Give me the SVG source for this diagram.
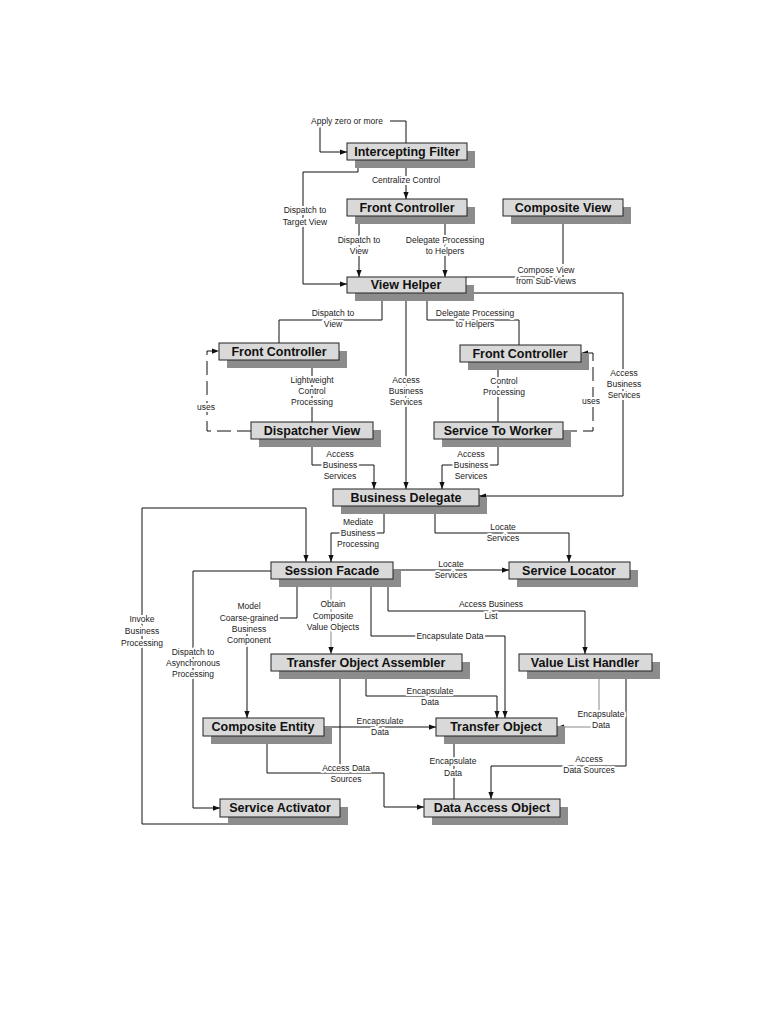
<svg xmlns="http://www.w3.org/2000/svg" width="768" height="1024" viewBox="0 0 768 1024">
<style>
.sh{fill:#8c8c8c}
.bx{fill:#d9d9d9;stroke:#222;stroke-width:1}
.bt{font-family:"Liberation Sans",Arial,sans-serif;font-weight:bold;font-size:12.5px;fill:#111;text-anchor:middle}
.c{fill:none;stroke:#111;stroke-width:1;marker-end:url(#a)}
.n{fill:none;stroke:#111;stroke-width:1}
.g{stroke:#888}
.d{stroke-dasharray:14,6}
.l{font-family:"Liberation Sans",Arial,sans-serif;font-size:8.5px;fill:#222;text-anchor:middle;paint-order:stroke;stroke:#fff;stroke-width:4px;stroke-linejoin:round}
</style>
<defs>
<marker id="a" viewBox="0 0 8 8" refX="8" refY="4" markerWidth="7" markerHeight="7" markerUnits="userSpaceOnUse" orient="auto"><path d="M0,1 L8,4 L0,7 z" fill="#111"/></marker>
</defs>
<rect width="768" height="1024" fill="#fff"/>
<g id="connectors">
<path class="n" d="M406,143 V121 H390"/>
<path class="c" d="M320,124 V152 H347"/>
<path class="c" d="M406,160 V199"/>
<path class="c" d="M358,160 V172 H303 V284 H347"/>
<path class="c" d="M359,216 V277"/>
<path class="c" d="M445,216 V277"/>
<path class="c" d="M466,277 H563 V216"/>
<path class="c" d="M466,293 H623 V496 H479"/>
<path class="c" d="M279,343 V320 H382 V293"/>
<path class="c" d="M406,293 V489"/>
<path class="c" d="M519,345 V320 H427 V293"/>
<path class="c" d="M312,422 V360"/>
<path class="c d" d="M251,431 H207 V351 H219"/>
<path class="c" d="M312,439 V465 H374 V489"/>
<path class="c" d="M498,422 V362"/>
<path class="c d" d="M563,431 H593 V353 H581"/>
<path class="c" d="M498,439 V465 H442 V489"/>
<path class="c" d="M384,506 V533 H331 V562"/>
<path class="c" d="M435,506 V533 H569 V562"/>
<path class="c" d="M393,570 H509"/>
<path class="c" d="M271,571 H193 V808 H220"/>
<path class="c" d="M280,817 V824 H142 V508 H306 V562"/>
<path class="c" d="M297,579 V618 H247 V718"/>
<path class="c g" d="M331,579 V654"/>
<path class="c" d="M371,579 V636 H505 V718"/>
<path class="c" d="M388,579 V611 H585 V654"/>
<path class="c" d="M366,671 V696 H497 V718"/>
<path class="n" d="M340,671 V773"/>
<path class="c" d="M267,736 V773 H384 V807 H424"/>
<path class="c" d="M324,727 H436"/>
<path class="c" d="M454,799 V736"/>
<path class="c g" d="M599,671 V727 H557"/>
<path class="c" d="M626,671 V766 H491 V799"/>
</g>
<g id="labels">
<text class="l" x="347" y="124">Apply zero or more</text>
<text class="l" x="406" y="183">Centralize Control</text>
<text class="l" x="305" y="213">Dispatch to</text><text class="l" x="305" y="225">Target View</text>
<text class="l" x="359" y="243">Dispatch to</text><text class="l" x="359" y="254">View</text>
<text class="l" x="445" y="243">Delegate Processing</text><text class="l" x="445" y="254">to Helpers</text>
<text class="l" x="546" y="273">Compose View</text><text class="l" x="546" y="284">from Sub-Views</text>
<text class="l" x="624" y="376">Access</text><text class="l" x="624" y="387">Business</text><text class="l" x="624" y="398">Services</text>
<text class="l" x="333" y="316">Dispatch to</text><text class="l" x="333" y="327">View</text>
<text class="l" x="406" y="383">Access</text><text class="l" x="406" y="394">Business</text><text class="l" x="406" y="405">Services</text>
<text class="l" x="475" y="316">Delegate Processing</text><text class="l" x="475" y="327">to Helpers</text>
<text class="l" x="312" y="383">Lightweight</text><text class="l" x="312" y="394">Control</text><text class="l" x="312" y="405">Processing</text>
<text class="l" x="206" y="410">uses</text>
<text class="l" x="340" y="457">Access</text><text class="l" x="340" y="468">Business</text><text class="l" x="340" y="479">Services</text>
<text class="l" x="504" y="384">Control</text><text class="l" x="504" y="395">Processing</text>
<text class="l" x="591" y="404">uses</text>
<text class="l" x="471" y="457">Access</text><text class="l" x="471" y="468">Business</text><text class="l" x="471" y="479">Services</text>
<text class="l" x="358" y="525">Mediate</text><text class="l" x="358" y="536">Business</text><text class="l" x="358" y="547">Processing</text>
<text class="l" x="503" y="530">Locate</text><text class="l" x="503" y="541">Services</text>
<text class="l" x="451" y="567">Locate</text><text class="l" x="451" y="578">Services</text>
<text class="l" x="193" y="655">Dispatch to</text><text class="l" x="193" y="666">Asynchronous</text><text class="l" x="193" y="677">Processing</text>
<text class="l" x="142" y="622">Invoke</text><text class="l" x="142" y="634">Business</text><text class="l" x="142" y="646">Processing</text>
<text class="l" x="249" y="609">Model</text><text class="l" x="249" y="621">Coarse-grained</text><text class="l" x="249" y="632">Business</text><text class="l" x="249" y="643">Component</text>
<text class="l" x="333" y="607">Obtain</text><text class="l" x="333" y="619">Composite</text><text class="l" x="333" y="630">Value  Objects</text>
<text class="l" x="450" y="639">Encapsulate Data</text>
<text class="l" x="491" y="607">Access Business</text><text class="l" x="491" y="619">List</text>
<text class="l" x="430" y="694">Encapsulate</text><text class="l" x="430" y="705">Data</text>
<text class="l" x="346" y="771">Access Data</text><text class="l" x="346" y="782">Sources</text>
<text class="l" x="380" y="724">Encapsulate</text><text class="l" x="380" y="735">Data</text>
<text class="l" x="453" y="764">Encapsulate</text><text class="l" x="453" y="776">Data</text>
<text class="l" x="601" y="717">Encapsulate</text><text class="l" x="601" y="728">Data</text>
<text class="l" x="589" y="762">Access</text><text class="l" x="589" y="773">Data Sources</text>
</g>
<g id="intercepting-filter"><rect class="sh" x="355" y="151" width="120" height="17"/><rect class="bx" x="347" y="143" width="120" height="17"/><text class="bt" x="407" y="156">Intercepting Filter</text></g>
<g id="front-controller-top"><rect class="sh" x="355" y="207" width="120" height="17"/><rect class="bx" x="347" y="199" width="120" height="17"/><text class="bt" x="407" y="212">Front Controller</text></g>
<g id="composite-view"><rect class="sh" x="511" y="207" width="120" height="17"/><rect class="bx" x="503" y="199" width="120" height="17"/><text class="bt" x="563" y="212">Composite View</text></g>
<g id="view-helper"><rect class="sh" x="355" y="285" width="119" height="16"/><rect class="bx" x="347" y="277" width="119" height="16"/><text class="bt" x="406" y="289">View Helper</text></g>
<g id="front-controller-left"><rect class="sh" x="227" y="351" width="120" height="17"/><rect class="bx" x="219" y="343" width="120" height="17"/><text class="bt" x="279" y="356">Front Controller</text></g>
<g id="front-controller-right"><rect class="sh" x="468" y="353" width="121" height="17"/><rect class="bx" x="460" y="345" width="121" height="17"/><text class="bt" x="520" y="358">Front Controller</text></g>
<g id="dispatcher-view"><rect class="sh" x="259" y="430" width="122" height="17"/><rect class="bx" x="251" y="422" width="122" height="17"/><text class="bt" x="312" y="435">Dispatcher View</text></g>
<g id="service-to-worker"><rect class="sh" x="442" y="430" width="129" height="17"/><rect class="bx" x="434" y="422" width="129" height="17"/><text class="bt" x="498" y="435">Service To Worker</text></g>
<g id="business-delegate"><rect class="sh" x="341" y="497" width="146" height="17"/><rect class="bx" x="333" y="489" width="146" height="17"/><text class="bt" x="406" y="502">Business Delegate</text></g>
<g id="session-facade"><rect class="sh" x="279" y="570" width="122" height="17"/><rect class="bx" x="271" y="562" width="122" height="17"/><text class="bt" x="332" y="575">Session Facade</text></g>
<g id="service-locator"><rect class="sh" x="517" y="570" width="121" height="17"/><rect class="bx" x="509" y="562" width="121" height="17"/><text class="bt" x="569" y="575">Service Locator</text></g>
<g id="transfer-object-assembler"><rect class="sh" x="279" y="662" width="191" height="17"/><rect class="bx" x="271" y="654" width="191" height="17"/><text class="bt" x="366" y="667">Transfer Object Assembler</text></g>
<g id="value-list-handler"><rect class="sh" x="527" y="662" width="133" height="17"/><rect class="bx" x="519" y="654" width="133" height="17"/><text class="bt" x="585" y="667">Value List Handler</text></g>
<g id="composite-entity"><rect class="sh" x="211" y="726" width="121" height="18"/><rect class="bx" x="203" y="718" width="121" height="18"/><text class="bt" x="263" y="731">Composite Entity</text></g>
<g id="transfer-object"><rect class="sh" x="444" y="726" width="121" height="18"/><rect class="bx" x="436" y="718" width="121" height="18"/><text class="bt" x="496" y="731">Transfer Object</text></g>
<g id="service-activator"><rect class="sh" x="228" y="807" width="120" height="18"/><rect class="bx" x="220" y="799" width="120" height="18"/><text class="bt" x="280" y="812">Service Activator</text></g>
<g id="data-access-object"><rect class="sh" x="432" y="807" width="136" height="18"/><rect class="bx" x="424" y="799" width="136" height="18"/><text class="bt" x="492" y="812">Data Access Object</text></g>
</svg>
